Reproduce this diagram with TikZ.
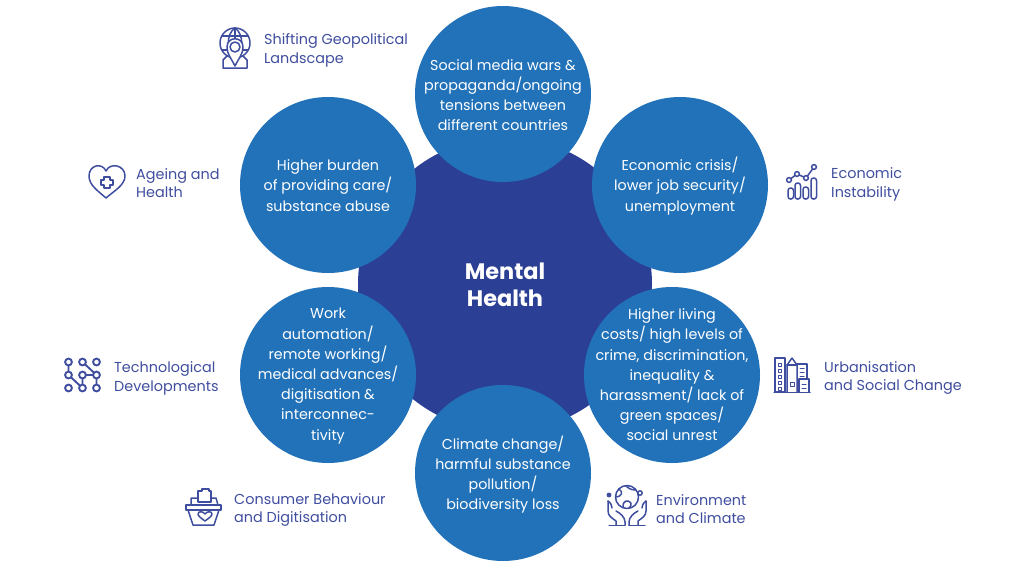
\documentclass[tikz,border=0pt]{standalone}
\usepackage{fontspec}
\setmainfont{Poppins}
\usetikzlibrary{positioning}
\definecolor{bubbleblue}{HTML}{2272B9}
\definecolor{hubblue}{HTML}{2B3F95}
\definecolor{inkblue}{HTML}{3F4D9F}
\tikzset{
	bubble/.style={circle, fill=bubbleblue, minimum size=176pt, inner sep=0pt},
	bubbletext/.style={inner sep=0pt, text=white, align=center, font=\fontsize{14.3}{20.2}\selectfont},
	hub/.style={circle, fill=hubblue, minimum size=294pt, inner sep=0pt, text=white, align=center, font=\fontsize{22.4}{27}\selectfont\bfseries},
	sidelabel/.style={right, inner sep=0pt, text=inkblue, align=left, font=\fontsize{14.4}{18.8}\selectfont},
	iconline/.style={draw=inkblue, line width=1.5pt, line join=round, line cap=round, fill=none}
}
\begin{document}
\begin{tikzpicture}[x=1pt, y=-1pt]
	\useasboundingbox (0, 0) rectangle (1015, 568);
	\node[hub] (hub) at (505, 284.5) {Mental\\Health};

	\node[bubble] (social) at (503, 94) {};
	\node[bubble] (care) at (328, 185) {};
	\node[bubble] (crisis) at (680, 185) {};
	\node[bubble] (work) at (328, 375) {};
	\node[bubble] (living) at (672, 375) {};
	\node[bubble] (climate) at (503, 473) {};

	\node[bubbletext] (socialtext) at (503, 95) {Social media wars \&\\propaganda/ongoing\\tensions between\\different countries};
	\node[bubbletext] (caretext) at (328, 185.5) {Higher burden\\of providing care/\\substance abuse};
	\node[bubbletext] (crisistext) at (680, 186) {Economic crisis/\\lower job security/\\unemployment};
	\node[bubbletext] (worktext) at (328, 376) {Work\\automation/\\remote working/\\medical advances/\\digitisation \&\\interconnec-\\tivity};
	\node[bubbletext] (livingtext) at (672, 375) {Higher living\\costs/ high levels of\\crime, discrimination,\\inequality \&\\harassment/ lack of\\green spaces/\\social unrest};
	\node[bubbletext] (climatetext) at (503, 474.5) {Climate change/\\harmful substance\\pollution/\\biodiversity loss};

	\node[sidelabel] (geo) at (264, 50.5) {Shifting Geopolitical\\Landscape};
	\node[sidelabel] (ageing) at (136, 183) {Ageing and\\Health};
	\node[sidelabel] (econ) at (831, 184.5) {Economic\\Instability};
	\node[sidelabel] (urban) at (824, 378) {Urbanisation\\and Social Change};
	\node[sidelabel] (tech) at (114, 378) {Technological\\Developments};
	\node[sidelabel] (consumer) at (234, 510) {Consumer Behaviour\\and Digitisation};
	\node[sidelabel] (env) at (656, 509) {Environment\\and Climate};

	% globe with pin
	\draw[iconline] (235, 43) circle (15);
	\draw[iconline] (235, 28) .. controls (226, 34) and (226, 52) .. (235, 58);
	\draw[iconline] (235, 28) .. controls (244, 34) and (244, 52) .. (235, 58);
	\draw[iconline] (235, 28) -- (235, 38);
	\draw[iconline] (222, 36) -- (248, 36);
	\draw[iconline] (222, 50) -- (228, 50) (242, 50) -- (248, 50);
	\draw[iconline, fill=white] (235, 66) .. controls (231, 58) and (227, 54) .. (227, 47) .. controls (227, 36) and (243, 36) .. (243, 47) .. controls (243, 54) and (239, 58) .. (235, 66) -- cycle;
	\draw[iconline] (235, 47) circle (5);
	\draw[iconline] (227, 56) -- (223, 60) -- (223, 68) -- (247, 68) -- (247, 60) -- (243, 56);

	% heart with cross
	\draw[iconline] (106, 198) .. controls (98, 191) and (89, 185) .. (89, 176) .. controls (89, 165) and (102, 162) .. (106, 171) .. controls (110, 162) and (125, 165) .. (125, 176) .. controls (125, 185) and (114, 191) .. (106, 198) -- cycle;
	\draw[iconline] (104, 177) -- (110, 177) -- (110, 180) -- (113, 180) -- (113, 185) -- (110, 185) -- (110, 188) -- (104, 188) -- (104, 185) -- (101, 185) -- (101, 180) -- (104, 180) -- cycle;

	% bars and trend line
	\foreach \barx/\bartop in {788/188, 795/183, 803/187, 811/178} {
		\draw[iconline, rounded corners=2.5pt] (\barx, 199) rectangle ++(5.5, \bartop-199);
	}
	\draw[iconline] (789, 180) -- (797, 174) -- (806, 178) -- (814, 167);
	\foreach \dotx/\doty in {789/180, 797/174, 806/178, 814/167} {
		\draw[iconline, fill=white] (\dotx, \doty) circle (2.4);
	}

	% buildings
	\draw[iconline] (775, 358) rectangle (785, 392);
	\foreach \winy in {363, 369, 375, 381, 387} {
		\draw[iconline, line width=1pt] (778.5, \winy) rectangle ++(3, 3);
	}
	\draw[iconline] (787, 392) -- (787, 365) -- (792, 358) -- (797, 365) -- (797, 392);
	\draw[iconline] (787, 365) -- (797, 365);
	\draw[iconline, line width=1pt] (790, 382) rectangle ++(4, 4);
	\draw[iconline] (797, 364) -- (807, 364) -- (807, 379);
	\foreach \winy in {368, 372, 376} {
		\draw[iconline, line width=1pt] (800, \winy) -- (804, \winy);
	}
	\draw[iconline] (799, 392) -- (799, 379) -- (809, 379) -- (809, 392);
	\draw[iconline, line width=1pt] (802, 384) -- (806, 384) (802, 388) -- (806, 388);
	\draw[iconline] (774, 392.5) -- (810, 392.5);

	% circuit grid
	\draw[iconline, line width=1.9pt] (68.5, 362) -- (68.5, 375) -- (82.5, 388) -- (82.5, 375) (82.5, 362) -- (96.5, 375) -- (96.5, 388) (82.5, 375) -- (96.5, 375);
	\foreach \nodex in {68.5, 82.5, 96.5} {
		\foreach \nodey in {362, 375, 388} {
			\draw[iconline, line width=1.9pt, fill=white] (\nodex, \nodey) circle (3.4);
		}
	}

	% basket
	\draw[iconline] (191, 505) -- (191, 498) -- (216, 498) -- (218, 505);
	\draw[iconline, fill=white] (198, 502) -- (198, 491) -- (202, 491) -- (202, 489) -- (209, 489) -- (209, 491) -- (211, 491) -- (211, 502) -- cycle;
	\draw[iconline] (186, 505) rectangle (221, 510);
	\draw[iconline] (188, 510) -- (193, 525) -- (214, 525) -- (219, 510);
	\draw[iconline] (205, 521) .. controls (201, 518) and (198, 516) .. (198, 514) .. controls (198, 511) and (203, 511) .. (205, 514) .. controls (207, 511) and (212, 511) .. (212, 514) .. controls (212, 516) and (209, 518) .. (205, 521) -- cycle;

	% hands holding the earth
	\draw[iconline] (627, 497) circle (11.5);
	\draw[iconline] (619, 489) .. controls (624, 492) and (621, 497) .. (616, 497) (623, 507) .. controls (622, 501) and (628, 499) .. (631, 503) .. controls (632, 505) and (630, 507) .. (629, 508) (626, 486) .. controls (630, 490) and (634, 490) .. (636, 490);
	\fill[inkblue] (609, 495) circle (2.4);
	\draw[iconline] (640, 493) circle (2.2);
	\draw[iconline] (608, 501) -- (608, 511) .. controls (608, 516) and (612, 518) .. (616, 521) -- (616, 525) (616, 511) .. controls (620, 513) and (625, 517) .. (625, 522) -- (625, 525);
	\draw[iconline] (646, 501) -- (646, 511) .. controls (646, 516) and (642, 518) .. (638, 521) -- (638, 525) (638, 511) .. controls (634, 513) and (629, 517) .. (629, 522) -- (629, 525);
	\draw[iconline] (608, 501) .. controls (611, 503) and (612, 506) .. (612, 508) (646, 501) .. controls (643, 503) and (642, 506) .. (642, 508);
	\draw[iconline] (609, 525.5) -- (625, 525.5) (629, 525.5) -- (645, 525.5);
\end{tikzpicture}
\end{document}
